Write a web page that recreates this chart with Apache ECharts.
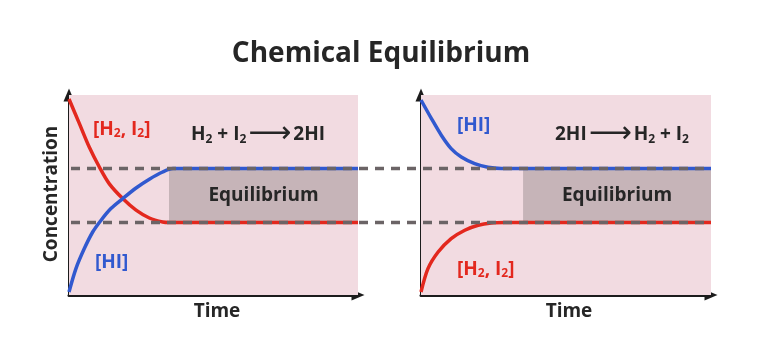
<!DOCTYPE html>
<html>
<head>
<meta charset="utf-8">
<script src="https://cdn.jsdelivr.net/npm/echarts@6/dist/echarts.min.js"></script>
<style>html,body{margin:0;padding:0;background:#fff}#c{width:763px;height:360px}</style>
</head>
<body>
<div id="c"></div>
<script>
// ---- data ----
const timeLeftRed  = [0, 3.6, 7.0, 10.5, 13.9, 18.6, 23.2, 27.8, 32.4, 34.7, 50, 100];
const h2i2Left     = [98, 85.7, 74, 64, 55.7, 48.2, 42.4, 38.5, 36.5, 36.25, 36.25, 36.25];
const timeLeftBlue = [0, 2.4, 5.3, 8.2, 11.1, 14.5, 18.6, 23.2, 27.8, 32.4, 36, 50, 100];
const hiLeft       = [1.5, 13.2, 23.2, 31.5, 37.4, 43.2, 48.2, 53.5, 57.9, 61.5, 63.2, 63.25, 63.25];
const timeRightBlue = [0, 3.6, 7.0, 10.4, 13.9, 18.5, 23.1, 27.7, 40, 100];
const hiRight       = [97.5, 88.2, 79.9, 73.2, 69, 65.7, 63.9, 63.3, 63.25, 63.25];
const timeRightRed  = [0, 2.4, 5.9, 10.4, 15.1, 19.7, 24.2, 28.9, 40, 100];
const h2i2Right     = [1.5, 13.2, 21.5, 28.2, 32.4, 34.9, 36, 36.25, 36.25, 36.25];
const eqHigh = 63.25;
const eqLow = 36.25;
const eqStart = [34.6, 35.2];
const eqLabel = 'Equilibrium';
const xLabel = 'Time';
const yLabel = 'Concentration';
const titleText = 'Chemical Equilibrium';

const RED = '#e3281e', BLUE = '#3159cf', PINK = '#f2dbe1', EQ = '#c6b4b8', GRAY = '#6b6466', DARK = '#262626';
const FONT = '"Open Sans", "DejaVu Sans", sans-serif';

function zip(xs, ys) { return xs.map((x, i) => [x, ys[i]]); }

function axisPair(gi) {
  const line = { show: true, onZero: true, symbol: ['none', 'triangle'], symbolSize: [11, 13],
    lineStyle: { color: '#1c1c1c', width: 3 } };
  return {
    x: { type: 'value', gridIndex: gi, min: 0, max: 100, axisLine: line, axisTick: { show: false },
      axisLabel: { show: false }, splitLine: { show: false } },
    y: { type: 'value', gridIndex: gi, min: 0, max: 100, axisLine: line, axisTick: { show: false },
      axisLabel: { show: false }, splitLine: { show: false } }
  };
}
const a0 = axisPair(0), a1 = axisPair(1);

function bgSeries(gi, start) {
  return {
    type: 'line', xAxisIndex: gi, yAxisIndex: gi, data: [[0, 0]], showSymbol: false,
    lineStyle: { width: 0 }, z: 1, silent: true,
    markArea: {
      silent: true,
      data: [
        [{ coord: [0, 0], itemStyle: { color: PINK } }, { coord: [100, 100] }],
        [{ coord: [start, eqLow], itemStyle: { color: EQ },
           label: { show: true, position: 'inside', formatter: eqLabel, fontFamily: FONT,
             fontSize: 19, fontWeight: 'bold', color: DARK } },
         { coord: [100, eqHigh] }]
      ]
    }
  };
}
function curve(gi, xs, ys, color) {
  return { type: 'line', xAxisIndex: gi, yAxisIndex: gi, data: zip(xs, ys), smooth: 0.3,
    showSymbol: false, z: 3, silent: true,
    lineStyle: { color: color, width: 3.5 } };
}
function dash(y) {
  return { type: 'line', xAxisIndex: 2, yAxisIndex: 2, data: [[0, y], [100, y]], showSymbol: false,
    z: 5, silent: true, lineStyle: { color: GRAY, width: 3.5, type: [9, 7], cap: 'butt' } };
}

function label(x, y, text, color, size, extra) {
  return Object.assign({
    text: text, left: x, top: y, padding: 0,
    textStyle: {
      color: color, fontFamily: FONT, fontWeight: 'bold', fontSize: size,
      rich: {
        a: { color: color, fontFamily: FONT, fontWeight: 'bold', fontSize: size },
        s: { color: color, fontFamily: FONT, fontWeight: 'bold', fontSize: 12, padding: [9, 0, 0, 0] },
        r: { color: color, fontFamily: '"DejaVu Sans", sans-serif', fontWeight: 'normal', fontSize: 30, padding: [0, 2, 2, 2] }
      }
    }
  }, extra || {});
}

const chart = echarts.init(document.getElementById('c'));
chart.setOption({
  animation: false,
  title: [
    label(381, 40, titleText, DARK, 28, { textAlign: 'center' }),
    label(217, 302, xLabel, DARK, 19, { textAlign: 'center' }),
    label(569, 302, xLabel, DARK, 19, { textAlign: 'center' }),
    label(93, 119, '{a|[H}{s|2}{a|, I}{s|2}{a|]}', RED, 19),
    label(95, 253, '{a|[HI]}', BLUE, 19),
    label(191, 119, '{a|H}{s|2}{a| + I}{s|2}{r|\u27F6}{a|2HI}', DARK, 19),
    label(457, 116, '{a|[HI]}', BLUE, 19),
    label(457, 259, '{a|[H}{s|2}{a|, I}{s|2}{a|]}', RED, 19),
    label(555, 119, '{a|2HI}{r|\u27F6}{a|H}{s|2}{a| + I}{s|2}', DARK, 19)
  ],
  grid: [
    { left: 69, top: 95, width: 289, height: 200 },
    { left: 421, top: 95, width: 290, height: 200 },
    { left: 71, top: 95, right: 52, height: 200 }
  ],
  xAxis: [a0.x, a1.x, { type: 'value', gridIndex: 2, min: 0, max: 100, show: false }],
  yAxis: [a0.y, a1.y, { type: 'value', gridIndex: 2, min: 0, max: 100, show: false }],
  series: [
    bgSeries(0, eqStart[0]),
    bgSeries(1, eqStart[1]),
    curve(0, timeLeftRed, h2i2Left, RED),
    curve(0, timeLeftBlue, hiLeft, BLUE),
    curve(1, timeRightBlue, hiRight, BLUE),
    curve(1, timeRightRed, h2i2Right, RED),
    dash(eqHigh),
    dash(eqLow)
  ],
  graphic: [
    { type: 'text', x: 52, y: 194, rotation: Math.PI / 2, silent: true, style: { text: yLabel, fill: DARK,
      font: 'bold 19px ' + FONT, align: 'center', verticalAlign: 'middle' } }
  ]
});
</script>
</body>
</html>
